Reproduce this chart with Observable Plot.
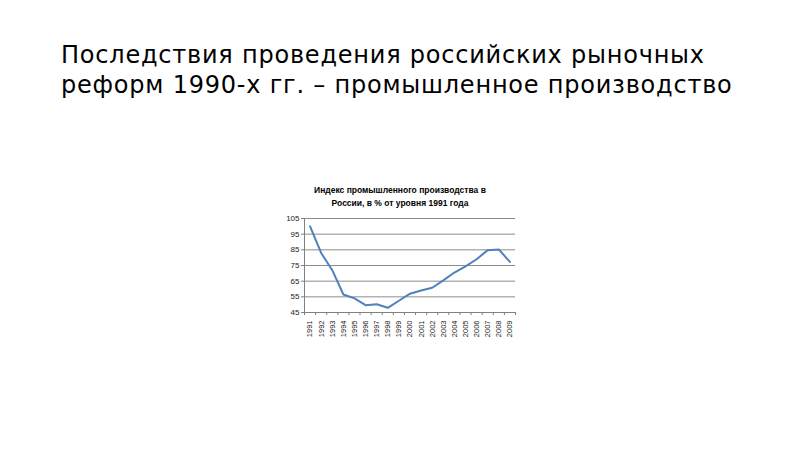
<!DOCTYPE html>
<html>
<head>
<meta charset="utf-8">
<script src="https://cdn.jsdelivr.net/npm/d3@7"></script>
<script src="https://cdn.jsdelivr.net/npm/@observablehq/plot@0.6"></script>
<style>
  html, body { margin: 0; padding: 0; background: #fff; }
  #wrap { position: relative; width: 800px; height: 449px; overflow: hidden; }
  #heading { position: absolute; left: 61px; top: 40px; font-family: "DejaVu Sans", sans-serif; font-size: 24px; letter-spacing: 0.78px; line-height: 30px; color: #000; white-space: nowrap; }
  #ctitle { position: absolute; left: 250px; width: 300px; top: 184px; text-align: center; font-family: "Liberation Sans", Arial, sans-serif; font-weight: bold; font-size: 8.5px; line-height: 13px; color: #000; }
  #chart { position: absolute; left: 0; top: 0; }
</style>
</head>
<body>
<div id="wrap">
  <div id="heading">Последствия проведения российских рыночных<br>реформ 1990-х гг. – промышленное производство</div>
  <div id="chart"></div>
  <div id="ctitle">Индекс промышленного производства в<br>России, в % от уровня 1991 года</div>
</div>
<script>
const years = [1991,1992,1993,1994,1995,1996,1997,1998,1999,2000,2001,2002,2003,2004,2005,2006,2007,2008,2009];
const values = [100,83,72,56.5,54,49.7,50.3,48,52.5,57,59,60.8,65.5,70.5,74.5,79,84.8,85.2,77.3];
const yTicks = [45,55,65,75,85,95,105];

const data = years.map((y, i) => ({year: y, value: values[i]}));
const boundaries = years.map(y => y - 0.5).concat([years[years.length - 1] + 0.5]);

const plot = Plot.plot({
  width: 800,
  height: 449,
  marginLeft: 304,
  marginRight: 285,
  marginTop: 218,
  marginBottom: 137,
  style: {background: "transparent", overflow: "visible"},
  x: {domain: [1990.5, 2009.5]},
  y: {domain: [45, 105]},
  marks: [
    Plot.ruleY(yTicks, {stroke: "#8c8c8c", strokeWidth: 1}),
    Plot.ruleY([45], {stroke: "#808080", strokeWidth: 1}),
    Plot.ruleX([1990.5], {y1: 45, y2: 105, stroke: "#808080"}),
    Plot.ruleX(boundaries, {y1: 45, y2: 43, stroke: "#808080"}),
    Plot.axisY({ticks: yTicks, tickSize: 3, tickPadding: 2, fontSize: 8, fontFamily: "Liberation Sans, Arial, sans-serif", fill: "#222", label: null, stroke: "#808080"}),
    Plot.axisX({ticks: years, tickFormat: d => String(d), tickSize: 0, tickPadding: 8, tickRotate: -90, fontSize: 7.5, fontFamily: "Liberation Sans, Arial, sans-serif", fill: "#222", label: null}),
    Plot.line(data, {x: "year", y: "value", stroke: "#4f81bd", strokeWidth: 2})
  ]
});
document.getElementById("chart").appendChild(plot);
</script>
</body>
</html>
